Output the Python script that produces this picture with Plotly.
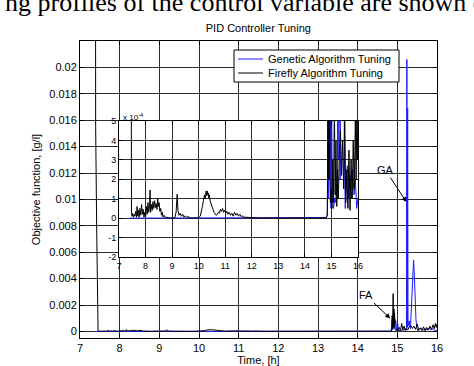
import numpy as np
import plotly.graph_objects as go

# ---------------- data (objective function in units of 1e-4 g/l) ----------------
fa_time = [7.39, 7.395, 7.42, 7.44, 7.455, 7.47, 7.49, 7.51, 7.54, 7.57, 7.60, 7.63, 7.66, 7.68,
           7.71, 7.73, 7.76, 7.79, 7.82, 7.85, 7.88, 7.91, 7.94, 7.97, 8.00, 8.03, 8.06, 8.09,
           8.12, 8.15, 8.17, 8.19, 8.22, 8.25, 8.28, 8.31, 8.34, 8.37, 8.40, 8.43, 8.46, 8.48,
           8.51, 8.54, 8.57, 8.60, 8.63, 8.66, 8.70, 8.75, 8.80, 8.90, 9.00, 9.10, 9.15, 9.19,
           9.22, 9.26, 9.30, 9.35, 9.40, 9.45, 9.50, 9.55, 9.60, 9.70, 9.80, 9.90, 10.00, 10.06,
           10.10, 10.14, 10.18, 10.22, 10.25, 10.28, 10.30, 10.32, 10.34, 10.36, 10.38, 10.40,
           10.43, 10.46, 10.50, 10.54, 10.58, 10.62, 10.66, 10.70, 10.74, 10.78, 10.82, 10.86,
           10.90, 10.94, 10.98, 11.02, 11.06, 11.10, 11.15, 11.20, 11.25, 11.30, 11.35, 11.40,
           11.45, 11.50, 11.55, 11.60, 11.65, 11.70, 11.80, 11.90, 12.0, 12.2, 12.4, 12.6, 12.8,
           13.0, 13.2, 13.4, 13.6, 13.8, 14.0, 14.2, 14.4, 14.6, 14.8, 14.84, 14.86, 14.87,
           14.88, 14.885, 14.89, 14.895, 14.90, 14.905, 14.91, 14.915, 14.92, 14.93, 14.94,
           14.96, 14.99, 15.02, 15.05, 15.08, 15.11, 15.14, 15.17, 15.20, 15.23, 15.26, 15.30,
           15.34, 15.38, 15.42, 15.46, 15.50, 15.54, 15.58, 15.62, 15.66, 15.70, 15.74, 15.78,
           15.82, 15.86, 15.90, 15.93, 15.96, 15.98, 16.00]
fa_obj_e4 = [300, 155, 80, 28, 0.5, 0.3, 0.1, 0.25, 0.05, 0.2, 0.1, 0.35, 0.05, 0.6,
             0.1, 0.4, 0.05, 0.5, 0.15, 0.7, 0.2, 0.45, 0.05, 0.3, 0.1, 0.6, 0.2, 0.8,
             0.3, 0.6, 1.45, 0.3, 0.7, 0.4, 0.85, 0.5, 0.9, 0.55, 0.75, 0.45, 1.0, 0.6,
             0.8, 0.35, 0.5, 0.15, 0.3, 0.05, 0.15, 0.02, 0.05, 0.0, 0.01, 0.02, 0.3, 1.23,
             0.4, 0.15, 0.25, 0.1, 0.2, 0.05, 0.12, 0.03, 0.08, 0.0, 0.01, 0.0, 0.02, 0.1,
             0.3, 0.6, 0.9, 1.2, 1.0, 1.4, 1.15, 1.4, 1.2, 1.3, 1.05, 1.2,
             0.9, 0.75, 0.55, 0.45, 0.3, 0.25, 0.15, 0.2, 0.3, 0.25, 0.45, 0.35,
             0.5, 0.3, 0.4, 0.25, 0.35, 0.2, 0.3, 0.15, 0.25, 0.1, 0.3, 0.15,
             0.25, 0.1, 0.2, 0.08, 0.12, 0.05, 0.04, 0.02, 0.01, 0.01, 0.0, 0.01, 0.0,
             0.0, 0.01, 0.0, 0.01, 0.0, 0.0, 0.01, 0.0, 0.01, 0.02, 0.1, 3, 12,
             2, 16, 4, 28.6, 6, 15, 3, 17, 5, 14, 2,
             0.8, 1.5, 0.5, 3, 0.8, 6, 1.2, 4, 0.6, 2.5, 1.0, 3.5,
             4.5, 2.2, 4, 1.5, 5.5, 0.8, 2.5, 0.5, 3.5, 0.4, 3, 1,
             4, 1.5, 5, 2, 6, 3, 5.5]

ga_time = [7.40, 7.6, 7.8, 8.0, 8.2, 8.4, 8.6, 8.8, 9.0, 9.2, 9.4, 9.6, 9.8, 10.0, 10.2,
           10.4, 10.6, 10.8, 11.0, 11.2, 11.4, 11.6, 11.8, 12.0, 12.2, 12.4, 12.6, 12.8,
           13.0, 13.2, 13.4, 13.6, 13.8, 14.0, 14.2, 14.4, 14.6, 14.8, 14.85, 14.87, 14.88,
           14.90, 14.92, 14.95, 14.98, 15.00, 15.03, 15.08, 15.12, 15.16, 15.20, 15.23,
           15.24, 15.25, 15.26, 15.27, 15.30, 15.33, 15.36, 15.38, 15.40, 15.41, 15.43,
           15.45, 15.47, 15.49, 15.52, 15.56, 15.60, 15.65, 15.70, 15.75, 15.80, 15.85,
           15.90, 15.95, 16.00]
ga_obj_e4 = [0.0, 0.0, 0.01, 0.0, 0.0, 0.01, 0.0, 0.0, 0.01, 0.0, 0.0, 0.01, 0.0, 0.0, 0.01,
             0.0, 0.0, 0.01, 0.0, 0.0, 0.01, 0.0, 0.02, 0.0, 0.03, 0.0, 0.03, 0.0,
             0.03, 0.0, 0.03, 0.0, 0.03, 0.0, 0.02, 0.0, 0.02, 0.03, 0.2, 9, 1,
             12, 2, 9, 0.5, 8, 1, 0.5, 1, 0.8, 2, 1,
             206, 3, 169, 4, 8, 2, 25, 38, 52, 54, 42,
             23, 9, 3, 0.5, 2, 2.7, 1, 2.2, 1, 2.5, 1.2,
             2, 0.5, 1]

hours = [7, 8, 9, 10, 11, 12, 13, 14, 15, 16]
main_yticks = [0, 0.002, 0.004, 0.006, 0.008, 0.01, 0.012, 0.014, 0.016, 0.018, 0.02]
main_yticklabels = ["0", "0.002", "0.004", "0.006", "0.008", "0.01", "0.012", "0.014",
                    "0.016", "0.018", "0.02"]
inset_yticks_e4 = [-2, -1, 0, 1, 2, 3, 4, 5]
inset_yticklabels = ["-2", "-1", "0", "1", "2", "3", "4", "5"]
series_names = ["Genetic Algorithm Tuning", "Firefly Algorithm Tuning"]

# unit conversion to g/l
fa_val = np.array(fa_obj_e4) * 1e-4
ga_val = np.array(ga_obj_e4) * 1e-4
inset_yticks = [v * 1e-4 for v in inset_yticks_e4]

FONT = "Liberation Sans, Arial, sans-serif"
GRID = "#2a2a2a"
BLUE = "#1a1aff"

# page layout in pixels (main axes box)
L, R, T, B = 80, 437, 41, 338


def px(xp):
    return (xp - L) / (R - L)


def py(yp):
    return (B - yp) / (B - T)


fig = go.Figure()
fig.add_trace(go.Scatter(x=ga_time, y=ga_val, mode="lines", name=series_names[0],
                         line=dict(color=BLUE, width=1), showlegend=False))
fig.add_trace(go.Scatter(x=fa_time, y=fa_val, mode="lines", name=series_names[1],
                         line=dict(color="black", width=1), showlegend=False))
fig.add_trace(go.Scatter(x=ga_time, y=ga_val, mode="lines", showlegend=False,
                         line=dict(color=BLUE, width=1), xaxis="x2", yaxis="y2"))
fig.add_trace(go.Scatter(x=fa_time, y=fa_val, mode="lines", showlegend=False,
                         line=dict(color="black", width=1), xaxis="x2", yaxis="y2"))

axis_common = dict(showline=True, linecolor="black", linewidth=1, mirror="ticks",
                   ticks="inside", ticklen=4, tickcolor="black", showgrid=True,
                   gridcolor=GRID, gridwidth=1, zeroline=False)

fig.update_layout(
    width=474, height=366,
    margin=dict(l=L, r=474 - R, t=T, b=366 - B, autoexpand=False),
    paper_bgcolor="white", plot_bgcolor="white",
    font=dict(family=FONT, size=11, color="black"),
    title=dict(text="PID Controller Tuning", x=0.545, xanchor="center",
               y=1 - 28 / 366, yanchor="middle", font=dict(size=11)),
    xaxis=dict(domain=[0, 1], range=[7, 16], tickvals=hours, **axis_common,
               title=dict(text="Time, [h]", standoff=1, font=dict(size=11))),
    yaxis=dict(domain=[0, 1], range=[-0.0005, 0.022], tickvals=main_yticks,
               ticktext=main_yticklabels, **axis_common,
               title=dict(text="Objective function, [g/l]", standoff=6, font=dict(size=11))),
    xaxis2=dict(domain=[px(119), px(358)], anchor="y2", range=[7, 16], tickvals=hours,
                tickfont=dict(size=9), **axis_common),
    yaxis2=dict(domain=[py(257), py(121)], anchor="x2", range=[-0.0002, 0.0005],
                tickvals=inset_yticks, ticktext=inset_yticklabels,
                tickfont=dict(size=9), **axis_common),
    showlegend=False,
)

# legend box drawn by hand (compact, MATLAB-like)
fig.add_shape(type="rect", xref="paper", yref="paper", x0=px(234), x1=px(399),
              y0=py(82), y1=py(50), line=dict(color="black", width=1), fillcolor="white")
for name, color, yy in [(series_names[0], BLUE, 59), (series_names[1], "black", 73)]:
    fig.add_shape(type="line", xref="paper", yref="paper", x0=px(238), x1=px(263),
                  y0=py(yy), y1=py(yy), line=dict(color=color, width=1))
    fig.add_annotation(x=px(266), y=py(yy), xref="paper", yref="paper", text=name,
                       showarrow=False, xanchor="left", yanchor="middle",
                       font=dict(size=11))

fig.add_annotation(x=15.23, y=0.0098, xref="x", yref="y", text="GA", showarrow=True,
                   ax=-21, ay=-32, arrowhead=2, arrowsize=1, arrowwidth=1,
                   arrowcolor="black", font=dict(size=11))
fig.add_annotation(x=14.82, y=0.00098, xref="x", yref="y", text="FA", showarrow=True,
                   ax=-24, ay=-23, arrowhead=2, arrowsize=1, arrowwidth=1,
                   arrowcolor="black", font=dict(size=11))
fig.add_annotation(x=px(121), y=py(117), xref="paper", yref="paper",
                   text="x 10<sup>-4</sup>", showarrow=False, xanchor="left",
                   yanchor="middle", font=dict(size=8))
fig.add_annotation(x=px(3), y=py(2), xref="paper", yref="paper",
                   text="ng profiles of the control variable are shown on",
                   showarrow=False, xanchor="left", yanchor="middle",
                   font=dict(family="Liberation Serif, Times New Roman, serif", size=26))

fig.write_html("out.html", config={"displayModeBar": False},
               post_script="document.body.style.margin='0';document.body.style.padding='0';")
